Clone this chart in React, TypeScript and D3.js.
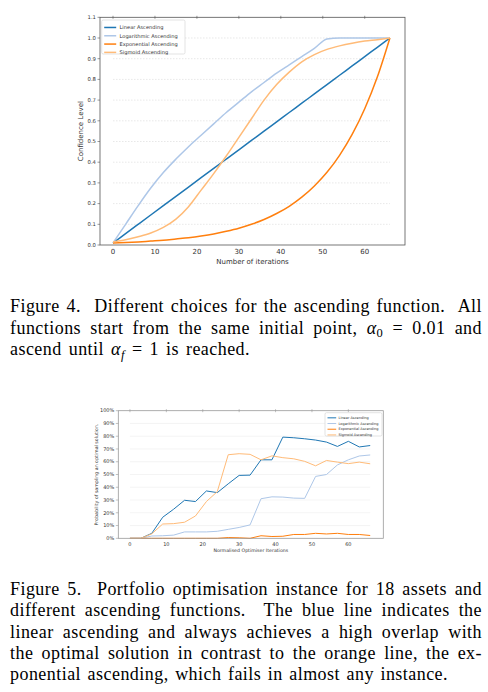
import { useRef, useEffect } from 'react';
import * as d3 from 'd3';

// iterations sampled every 3 steps
const iters = [0, 3, 6, 9, 12, 15, 18, 21, 24, 27, 30, 33, 36, 39, 42, 45, 48, 51, 54, 57, 60, 63, 66];

// Figure 4: confidence level per ascending function
const linearConf = [0.01, 0.055, 0.1, 0.145, 0.19, 0.235, 0.28, 0.325, 0.37, 0.415, 0.46, 0.505, 0.55, 0.595, 0.64, 0.685, 0.73, 0.775, 0.82, 0.865, 0.91, 0.955, 1.0];
const logConf = [0.01, 0.1, 0.19, 0.275, 0.35, 0.415, 0.475, 0.53, 0.585, 0.64, 0.69, 0.74, 0.785, 0.83, 0.87, 0.91, 0.95, 0.995, 1.0, 1.0, 1.0, 1.0, 1.0];
const expConf = [0.01, 0.012, 0.015, 0.019, 0.023, 0.029, 0.035, 0.043, 0.053, 0.066, 0.081, 0.1, 0.123, 0.152, 0.187, 0.231, 0.285, 0.351, 0.433, 0.534, 0.658, 0.811, 1.0];
const sigConf = [0.015, 0.025, 0.04, 0.058, 0.085, 0.125, 0.185, 0.265, 0.345, 0.43, 0.52, 0.61, 0.7, 0.775, 0.835, 0.885, 0.92, 0.945, 0.962, 0.975, 0.985, 0.992, 1.0];

// Figure 5: probability (%) of sampling the optimal solution
const linearProb = [0, 0, 3.9, 16.5, 22.8, 29.8, 28.8, 37.1, 35.8, 42.7, 49.3, 49.5, 61.5, 61.5, 79.3, 78.8, 78, 77, 75.4, 72, 76, 71.6, 72.7];
const logProb = [0, 0, 1.8, 2, 2.5, 5, 5, 5, 5.5, 7, 8.5, 10.5, 31, 32.5, 32.3, 31.5, 31.3, 48.5, 50, 57.5, 61.5, 64.5, 65.3];
const expProb = [0, 0, 0, 0, 0, 0, 0, 0, 0, 0.6, 0.4, 0, 2, 1.4, 1.6, 3, 3, 3.9, 3.4, 3.9, 3, 3, 2.2];
const sigProb = [0, 0, 3.5, 11.2, 11.5, 12.6, 17.5, 28.8, 36.6, 65.5, 66.3, 65.8, 61.5, 64.6, 63.2, 62.3, 60.3, 56.8, 61, 59.7, 58.5, 59.7, 58.4];

const seriesNames = ['Linear Ascending', 'Logarithmic Ascending', 'Exponential Ascending', 'Sigmoid Ascending'];
const seriesColors = ['#1f77b4', '#aec7e8', '#ff7f0e', '#ffbb78'];

const xTicks = [0, 10, 20, 30, 40, 50, 60];
const confTicks = [0, 0.1, 0.2, 0.3, 0.4, 0.5, 0.6, 0.7, 0.8, 0.9, 1.0, 1.1];
const probTicks = [0, 10, 20, 30, 40, 50, 60, 70, 80, 90, 100];

type Seg = { t: string; i?: boolean; sub?: boolean };

const caption4: Seg[][] = [
  [{ t: 'Figure 4.  Different choices for the ascending function.  All' }],
  [{ t: 'functions start from the same initial point, ' }, { t: 'α', i: true }, { t: '0', sub: true }, { t: ' = 0.01 and' }],
  [{ t: 'ascend until ' }, { t: 'α', i: true }, { t: 'f', i: true, sub: true }, { t: ' = 1 is reached.' }],
];
const caption5: Seg[][] = [
  [{ t: 'Figure 5.  Portfolio optimisation instance for 18 assets and' }],
  [{ t: 'different ascending functions.  The blue line indicates the' }],
  [{ t: 'linear ascending and always achieves a high overlap with' }],
  [{ t: 'the optimal solution in contrast to the orange line, the ex-' }],
  [{ t: 'ponential ascending, which fails in almost any instance.' }],
];

const SANS = 'DejaVu Sans, sans-serif';

interface ChartCfg {
  left: number; right: number; top: number; bottom: number;
  xDomain: [number, number];
  yDomain: [number, number];
  yTicks: number[];
  yFmt: (v: number) => string;
  series: number[][];
  curve: d3.CurveFactory;
  lineWidth: number;
  yTickFont: number;
  xTickFont: number;
  labelFont: number;
  xLabel: string;
  yLabel: string;
  yLabelX: number;
  xTickY: number;
  xLabelY: number;
  gridDash: string | null;
  gridColor: string;
  frameColor: string;
  legend: { x: number; y: number; w: number; h: number; font: number; row: number; sample: number };
}

function drawChart(svg: d3.Selection<SVGSVGElement, unknown, null, undefined>, c: ChartCfg) {
  const g = svg.append('g');
  const x = d3.scaleLinear().domain(c.xDomain).range([c.left, c.right]);
  const y = d3.scaleLinear().domain(c.yDomain).range([c.bottom, c.top]);

  // gridlines span the data range only
  const [gx0, gx1] = d3.extent(iters) as [number, number];
  c.yTicks.filter(t => t > c.yDomain[0] && t < c.yDomain[1]).forEach(t => {
    g.append('line')
      .attr('x1', x(gx0)).attr('x2', x(gx1)).attr('y1', y(t)).attr('y2', y(t))
      .attr('stroke', c.gridColor).attr('stroke-width', 0.6)
      .attr('stroke-dasharray', c.gridDash);
  });

  const line = d3.line<number>().x((_, i) => x(iters[i])).y(d => y(d)).curve(c.curve);
  c.series.forEach((s, i) => {
    g.append('path').datum(s).attr('d', line)
      .attr('fill', 'none').attr('stroke', seriesColors[i])
      .attr('stroke-width', c.lineWidth).attr('stroke-linejoin', 'round');
  });

  // frame
  g.append('rect')
    .attr('x', c.left).attr('y', c.top)
    .attr('width', c.right - c.left).attr('height', c.bottom - c.top)
    .attr('fill', 'none').attr('stroke', c.frameColor).attr('stroke-width', 0.8);

  // y ticks
  c.yTicks.forEach(t => {
    g.append('line').attr('x1', c.left - 2.5).attr('x2', c.left)
      .attr('y1', y(t)).attr('y2', y(t)).attr('stroke', c.frameColor).attr('stroke-width', 0.6);
    g.append('text').attr('x', c.left - 4).attr('y', y(t))
      .attr('dy', '0.35em').attr('text-anchor', 'end')
      .attr('font-family', SANS).attr('font-size', c.yTickFont).attr('fill', '#333')
      .text(c.yFmt(t));
  });

  // x ticks (marks on top edge, labels below)
  xTicks.forEach(t => {
    g.append('line').attr('x1', x(t)).attr('x2', x(t))
      .attr('y1', c.top - 1.5).attr('y2', c.top + 1.5)
      .attr('stroke', c.frameColor).attr('stroke-width', 0.6);
    g.append('text').attr('x', x(t)).attr('y', c.xTickY)
      .attr('text-anchor', 'middle')
      .attr('font-family', SANS).attr('font-size', c.xTickFont).attr('fill', '#333')
      .text(String(t));
  });

  g.append('text').attr('x', (c.left + c.right) / 2).attr('y', c.xLabelY)
    .attr('text-anchor', 'middle').attr('font-family', SANS)
    .attr('font-size', c.labelFont).attr('fill', '#333').text(c.xLabel);
  g.append('text')
    .attr('transform', `translate(${c.yLabelX},${(c.top + c.bottom) / 2}) rotate(-90)`)
    .attr('text-anchor', 'middle').attr('dy', '0.35em').attr('font-family', SANS)
    .attr('font-size', c.labelFont).attr('fill', '#333').text(c.yLabel);

  // legend
  const L = c.legend;
  const lg = g.append('g').attr('transform', `translate(${L.x},${L.y})`);
  lg.append('rect').attr('width', L.w).attr('height', L.h).attr('rx', 1.5)
    .attr('fill', 'white').attr('fill-opacity', 0.85)
    .attr('stroke', '#d0d0d0').attr('stroke-width', 0.6);
  seriesNames.forEach((name, i) => {
    const cy = L.row * 0.9 + i * L.row;
    lg.append('line').attr('x1', 2.5).attr('x2', 2.5 + L.sample)
      .attr('y1', cy).attr('y2', cy)
      .attr('stroke', seriesColors[i]).attr('stroke-width', c.lineWidth);
    lg.append('text').attr('x', 2.5 + L.sample + L.row * 0.4).attr('y', cy)
      .attr('dy', '0.35em').attr('font-family', SANS)
      .attr('font-size', L.font).attr('fill', '#333').text(name);
  });
}

// each line is spread out to its right edge (last line of a paragraph ends early)
function drawCaption(
  svg: d3.Selection<SVGSVGElement, unknown, null, undefined>,
  lines: Seg[][], y0: number, lh: number, lastRight: number,
) {
  const left = 10, right = 482;
  lines.forEach((segs, li) => {
    const txt = svg.append('text')
      .attr('x', left).attr('y', y0 + li * lh)
      .attr('font-family', 'Liberation Serif, Times New Roman, serif')
      .attr('font-size', 18).attr('fill', '#000')
      .attr('letter-spacing', 0.45)
      .style('white-space', 'pre');
    segs.forEach((s, si) => {
      const ts = txt.append('tspan').text(s.t);
      if (s.i) ts.attr('font-style', 'italic');
      if (s.sub) ts.attr('font-size', 12.5).attr('dy', 3.5);
      else if (si > 0 && segs[si - 1].sub) ts.attr('dy', -3.5);
    });
    const target = li < lines.length - 1 ? right : lastRight;
    const node = txt.node() as SVGTextElement;
    const w = node.getComputedTextLength();
    const full = segs.map(s => s.t).join('');
    const spaces = (full.match(/ /g) || []).length;
    if (spaces > 0) txt.attr('word-spacing', (target - left - w) / spaces);
  });
}

export default function App() {
  const svgRef = useRef<SVGSVGElement>(null);

  useEffect(() => {
    document.body.style.margin = '0';
    document.body.style.overflow = 'hidden';
    const svg = d3.select(svgRef.current as SVGSVGElement);
    svg.selectAll('*').remove();

    drawChart(svg, {
      left: 100, right: 405, top: 17.3, bottom: 245,
      xDomain: [-3.1, 69.6], yDomain: [0, 1.1],
      yTicks: confTicks, yFmt: d3.format('.1f'),
      series: [linearConf, logConf, expConf, sigConf],
      curve: d3.curveMonotoneX, lineWidth: 1.5,
      yTickFont: 5.3, xTickFont: 7, labelFont: 7,
      xLabel: 'Number of iterations', yLabel: 'Confidence Level',
      yLabelX: 80.5, xTickY: 254.3, xLabelY: 263.5,
      gridDash: '1.5,1.5', gridColor: '#d8d8d8', frameColor: '#555',
      legend: { x: 101.7, y: 20, w: 83.3, h: 34, font: 5.1, row: 8.3, sample: 12 },
    });

    drawChart(svg, {
      left: 118.3, right: 383.3, top: 410.7, bottom: 538.3,
      xDomain: [-3.2, 69.6], yDomain: [0, 100],
      yTicks: probTicks, yFmt: v => `${v}%`,
      series: [linearProb, logProb, expProb, sigProb],
      curve: d3.curveLinear, lineWidth: 1,
      yTickFont: 5, xTickFont: 5, labelFont: 4.7,
      xLabel: 'Normalised Optimiser Iterations', yLabel: 'Probability of sampling an optimal solution.',
      yLabelX: 96.7, xTickY: 545.8, xLabelY: 552,
      gridDash: null, gridColor: '#ececec', frameColor: '#999',
      legend: { x: 325, y: 412.7, w: 57, h: 23.3, font: 3.5, row: 5.7, sample: 8.7 },
    });

    drawCaption(svg, caption4, 312, 21.5, 250);
    drawCaption(svg, caption5, 595, 21.3, 448);
  }, []);

  return <svg ref={svgRef} width={488} height={692} style={{ display: 'block', background: 'white' }} />;
}
